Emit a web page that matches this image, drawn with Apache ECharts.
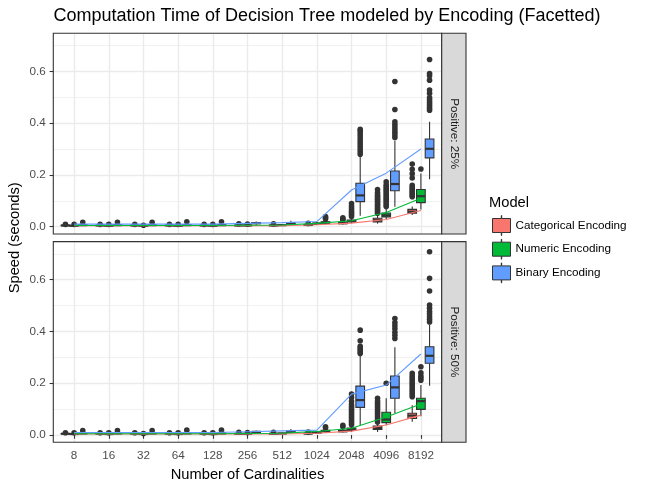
<!DOCTYPE html>
<html lang="en">
<head>
<meta charset="UTF-8">
<title>Computation Time of Decision Tree modeled by Encoding</title>
<style>html,body{margin:0;padding:0;background:#fff;}</style>
</head>
<body>
<div id="main" style="width:648px;height:487px;"></div>
<script src="https://cdn.jsdelivr.net/npm/echarts@6/dist/echarts.min.js"></script>
<script>
var categories = ['8', '16', '32', '64', '128', '256', '512', '1024', '2048', '4096', '8192'];
var models = ['Categorical Encoding', 'Numeric Encoding', 'Binary Encoding'];
var colors = ['#F8766D', '#00BA38', '#619CFF'];
var facets = ['Positive: 25%', 'Positive: 50%'];
var yTicks = [0, 0.2, 0.4, 0.6];

// box stats per cardinality: [lower whisker, q1, median, q3, upper whisker]
// --- Positive: 25% ---
var catBox25 = [
    [0.003, 0.004, 0.005, 0.006, 0.007], [0.003, 0.004, 0.005, 0.006, 0.007],
    [0.003, 0.004, 0.005, 0.006, 0.007], [0.003, 0.004, 0.005, 0.006, 0.007],
    [0.003, 0.004, 0.005, 0.006, 0.008], [0.002, 0.004, 0.005, 0.006, 0.009],
    [0.002, 0.004, 0.005, 0.006, 0.009], [0.004, 0.006, 0.007, 0.008, 0.011],
    [0.009, 0.012, 0.014, 0.017, 0.022], [0.012, 0.019, 0.025, 0.033, 0.048],
    [0.045, 0.052, 0.058, 0.067, 0.078]
];
var catOut25 = [
    [0.009], [0.009], [0.009], [0.009], [0.009], [0.011], [0.011], [0.013],
    [0.026, 0.030, 0.035],
    [0.052, 0.058, 0.064, 0.070, 0.076, 0.082, 0.088, 0.094, 0.100, 0.106, 0.112, 0.118, 0.124, 0.132, 0.144],
    [0.116, 0.122, 0.128, 0.134, 0.140, 0.147, 0.153, 0.160, 0.188, 0.205, 0.222, 0.242]
];
var numBox25 = [
    [0.002, 0.003, 0.004, 0.005, 0.006], [0.002, 0.003, 0.004, 0.005, 0.006],
    [0.002, 0.003, 0.004, 0.005, 0.006], [0.002, 0.003, 0.004, 0.005, 0.006],
    [0.002, 0.003, 0.004, 0.005, 0.006], [0.003, 0.004, 0.005, 0.006, 0.008],
    [0.004, 0.005, 0.006, 0.007, 0.009], [0.007, 0.010, 0.012, 0.014, 0.018],
    [0.014, 0.019, 0.022, 0.026, 0.036], [0.030, 0.038, 0.044, 0.053, 0.075],
    [0.067, 0.093, 0.118, 0.144, 0.206]
];
var numOut25 = [
    [0.009], [0.009], [0.006], [0.009], [0.009], [0.010], [], [],
    [0.040, 0.046, 0.052, 0.058, 0.065, 0.072, 0.080, 0.090],
    [0.078, 0.085, 0.092, 0.099, 0.106, 0.113, 0.120, 0.127, 0.134, 0.141, 0.148, 0.155, 0.162, 0.174],
    [0.223]
];
var binBox25 = [
    [0.004, 0.005, 0.006, 0.008, 0.011], [0.004, 0.005, 0.006, 0.008, 0.011],
    [0.004, 0.005, 0.006, 0.008, 0.011], [0.004, 0.005, 0.006, 0.008, 0.011],
    [0.004, 0.005, 0.006, 0.008, 0.011], [0.008, 0.012, 0.014, 0.016, 0.020],
    [0.007, 0.011, 0.013, 0.015, 0.023], [0.010, 0.014, 0.016, 0.019, 0.024],
    [0.042, 0.097, 0.121, 0.168, 0.270], [0.077, 0.139, 0.165, 0.215, 0.332],
    [0.183, 0.266, 0.301, 0.339, 0.405]
];
var binOut25 = [
    [0.017], [0.017], [0.017], [0.019], [0.019], [], [],
    [0.030, 0.035, 0.039],
    [0.280, 0.290, 0.300, 0.310, 0.320, 0.330, 0.340, 0.350, 0.360, 0.370, 0.376],
    [0.345, 0.355, 0.365, 0.375, 0.385, 0.395, 0.405, 0.453, 0.561],
    [0.450, 0.458, 0.466, 0.474, 0.482, 0.490, 0.498, 0.515, 0.528, 0.566, 0.583, 0.592, 0.646]
];
var catLine25 = [0.004, 0.004, 0.004, 0.004, 0.004, 0.004, 0.004, 0.008, 0.014, 0.028, 0.063];
var numLine25 = [0.005, 0.005, 0.005, 0.005, 0.005, 0.006, 0.007, 0.013, 0.023, 0.055, 0.110];
var binLine25 = [0.010, 0.010, 0.010, 0.010, 0.010, 0.013, 0.016, 0.020, 0.142, 0.207, 0.300];

// --- Positive: 50% ---
var catBox50 = [
    [0.003, 0.004, 0.005, 0.006, 0.007], [0.003, 0.004, 0.005, 0.006, 0.007],
    [0.003, 0.004, 0.005, 0.006, 0.007], [0.003, 0.004, 0.005, 0.006, 0.007],
    [0.003, 0.004, 0.005, 0.006, 0.008], [0.002, 0.004, 0.005, 0.006, 0.009],
    [0.002, 0.004, 0.005, 0.006, 0.009], [0.003, 0.005, 0.006, 0.007, 0.009],
    [0.010, 0.013, 0.015, 0.019, 0.026], [0.012, 0.022, 0.027, 0.035, 0.045],
    [0.051, 0.064, 0.075, 0.084, 0.115]
];
var catOut50 = [
    [0.009], [0.009], [0.009], [0.009], [0.009], [0.011], [0.011], [0.012],
    [0.032, 0.038],
    [0.050, 0.058, 0.066, 0.074, 0.082, 0.090, 0.098, 0.106, 0.114, 0.122, 0.130, 0.142],
    [0.148, 0.156, 0.164, 0.172, 0.180, 0.188, 0.196, 0.204, 0.212, 0.220, 0.228, 0.238]
];
var numBox50 = [
    [0.002, 0.003, 0.004, 0.005, 0.006], [0.002, 0.003, 0.004, 0.005, 0.006],
    [0.002, 0.003, 0.004, 0.005, 0.006], [0.002, 0.003, 0.004, 0.005, 0.006],
    [0.002, 0.003, 0.004, 0.005, 0.006], [0.003, 0.004, 0.005, 0.006, 0.008],
    [0.004, 0.005, 0.006, 0.007, 0.009], [0.006, 0.008, 0.010, 0.012, 0.016],
    [0.012, 0.018, 0.022, 0.027, 0.035], [0.039, 0.048, 0.060, 0.088, 0.142],
    [0.073, 0.099, 0.131, 0.142, 0.193]
];
var numOut50 = [
    [0.009], [0.009], [0.006], [0.009], [0.009], [0.010], [], [],
    [0.040, 0.047, 0.054, 0.061, 0.068, 0.075, 0.082, 0.089, 0.096, 0.103, 0.110, 0.118, 0.130, 0.145, 0.158],
    [0.200],
    [0.212, 0.220, 0.228, 0.240, 0.264]
];
var binBox50 = [
    [0.004, 0.005, 0.006, 0.008, 0.011], [0.004, 0.005, 0.006, 0.008, 0.011],
    [0.004, 0.005, 0.006, 0.008, 0.011], [0.004, 0.005, 0.006, 0.008, 0.011],
    [0.004, 0.005, 0.006, 0.008, 0.011], [0.007, 0.010, 0.012, 0.014, 0.018],
    [0.007, 0.010, 0.012, 0.015, 0.023], [0.009, 0.013, 0.015, 0.018, 0.024],
    [0.039, 0.107, 0.135, 0.189, 0.309], [0.084, 0.142, 0.184, 0.228, 0.339],
    [0.190, 0.277, 0.306, 0.341, 0.425]
];
var binOut50 = [
    [0.017], [0.017], [0.017], [0.019], [0.019], [], [],
    [0.027, 0.032],
    [0.315, 0.322, 0.329, 0.336, 0.343, 0.364, 0.405],
    [0.373, 0.385, 0.397, 0.410, 0.422, 0.434, 0.450],
    [0.437, 0.447, 0.457, 0.467, 0.477, 0.490, 0.502, 0.556, 0.605, 0.708]
];
var catLine50 = [0.004, 0.004, 0.004, 0.004, 0.004, 0.004, 0.004, 0.007, 0.015, 0.039, 0.077];
var numLine50 = [0.005, 0.005, 0.005, 0.005, 0.005, 0.006, 0.007, 0.014, 0.026, 0.070, 0.120];
var binLine50 = [0.010, 0.010, 0.010, 0.010, 0.010, 0.013, 0.016, 0.019, 0.158, 0.193, 0.313];

var panels = [
    {label: facets[0], box: [catBox25, numBox25, binBox25], out: [catOut25, numOut25, binOut25], line: [catLine25, numLine25, binLine25]},
    {label: facets[1], box: [catBox50, numBox50, binBox50], out: [catOut50, numOut50, binOut50], line: [catLine50, numLine50, binLine50]}
];

// layout (pixels)
var FONT = 'Liberation Sans, Arial, sans-serif';
var PL = 53.3, PW = 388.4, PH = 200.7;
var PT = [33.3, 241.6];
var BAND = PW / 11.2;
var STRIP_W = 24.3;
var Y_MIN = -0.028, Y_MAX = 0.747;
var BOX_W = 0.25;
var DARK = '#333333';
// legend key: box with whisker stems above and below
var KEY_ICON = 'path://M8.8,0 L9.2,0 L9.2,3 L18,3 L18,17 L9.2,17 L9.2,20 L8.8,20 L8.8,17 L0,17 L0,3 L8.8,3 Z';

function boxRenderer(k) {
    return function (params, api) {
        var i = api.value(0);
        var band = api.size([1, 0])[0];
        var cx = api.coord([i, 0])[0] + (k - 1) * BOX_W * band;
        var hw = BOX_W * band / 2;
        var yLo = api.coord([i, api.value(1)])[1];
        var yQ1 = api.coord([i, api.value(2)])[1];
        var yMed = api.coord([i, api.value(3)])[1];
        var yQ3 = api.coord([i, api.value(4)])[1];
        var yHi = api.coord([i, api.value(5)])[1];
        var ls = {stroke: DARK, lineWidth: 1.1};
        return {
            type: 'group',
            children: [
                {type: 'line', shape: {x1: cx, y1: yQ3, x2: cx, y2: yHi}, style: ls},
                {type: 'line', shape: {x1: cx, y1: yLo, x2: cx, y2: yQ1}, style: ls},
                {type: 'rect', shape: {x: cx - hw, y: yQ3, width: 2 * hw, height: Math.max(yQ1 - yQ3, 0.5)},
                    style: {fill: colors[k], stroke: DARK, lineWidth: 1.1}},
                {type: 'line', shape: {x1: cx - hw, y1: yMed, x2: cx + hw, y2: yMed}, style: {stroke: DARK, lineWidth: 2.2}}
            ]
        };
    };
}

function outlierRenderer(k) {
    return function (params, api) {
        var i = api.value(0);
        var band = api.size([1, 0])[0];
        var p = api.coord([i, api.value(1)]);
        return {
            type: 'circle',
            shape: {cx: p[0] + (k - 1) * BOX_W * band, cy: p[1], r: 2.8},
            style: {fill: DARK}
        };
    };
}

var grids = [], xAxes = [], yAxes = [], series = [], graphics = [];

panels.forEach(function (panel, p) {
    var isBottom = p === panels.length - 1;
    // outer grid: full panel, carries the y axis and horizontal grid lines
    grids.push({left: PL, top: PT[p], width: PW, height: PH, show: true, backgroundColor: '#fff',
        borderWidth: 0, outerBoundsMode: 'none'});
    // inner grid: category positions (ggplot pads 0.6 of a step on each side)
    grids.push({left: PL + 0.1 * BAND, top: PT[p], width: 11 * BAND, height: PH, outerBoundsMode: 'none'});

    xAxes.push({type: 'value', gridIndex: 2 * p, min: 0, max: 1, show: false});
    xAxes.push({
        type: 'category', gridIndex: 2 * p + 1, data: categories, boundaryGap: true,
        axisLine: {show: false},
        axisTick: {show: isBottom, alignWithLabel: true, length: 3.7, lineStyle: {color: DARK, width: 1.1}},
        axisLabel: {show: isBottom, color: '#4D4D4D', fontSize: 11.7, fontFamily: FONT, margin: 7, interval: 0},
        splitLine: {show: true, alignWithLabel: true, lineStyle: {color: '#EBEBEB', width: 1.4}},
        name: isBottom ? 'Number of Cardinalities' : '',
        nameLocation: 'middle', nameGap: 25,
        nameTextStyle: {color: '#000', fontSize: 14.7, fontFamily: FONT}
    });

    yAxes.push({
        type: 'value', gridIndex: 2 * p, min: Y_MIN, max: Y_MAX, splitNumber: 4,
        axisLine: {show: false},
        axisTick: {show: true, length: 3.7, customValues: yTicks, lineStyle: {color: DARK, width: 1.1}},
        axisLabel: {
            color: '#4D4D4D', fontSize: 11.7, fontFamily: FONT, margin: 7.5, customValues: yTicks,
            formatter: function (v) {
                return Math.abs(v * 5 - Math.round(v * 5)) < 1e-6 ? v.toFixed(1) : '';
            }
        },
        splitLine: {show: true, lineStyle: {color: '#EBEBEB', width: 1.4}},
        minorTick: {show: false, splitNumber: 2},
        minorSplitLine: {show: true, lineStyle: {color: '#EBEBEB', width: 0.7}}
    });
    yAxes.push({type: 'value', gridIndex: 2 * p + 1, min: Y_MIN, max: Y_MAX, show: false});

    models.forEach(function (m, k) {
        series.push({
            type: 'custom', name: m, xAxisIndex: 2 * p + 1, yAxisIndex: 2 * p + 1,
            renderItem: boxRenderer(k), itemStyle: {color: colors[k]}, z: 2,
            encode: {x: 0, y: [1, 2, 3, 4, 5]},
            data: panel.box[k].map(function (b, i) { return [i].concat(b); })
        });
        var pts = [];
        panel.out[k].forEach(function (vals, i) {
            vals.forEach(function (v) { pts.push([i, v]); });
        });
        series.push({
            type: 'custom', name: m, xAxisIndex: 2 * p + 1, yAxisIndex: 2 * p + 1,
            renderItem: outlierRenderer(k), itemStyle: {color: colors[k]}, z: 3,
            encode: {x: 0, y: 1}, data: pts
        });
        series.push({
            type: 'line', name: m, xAxisIndex: 2 * p + 1, yAxisIndex: 2 * p + 1,
            data: panel.line[k], showSymbol: false, symbol: 'none', z: 4,
            lineStyle: {color: colors[k], width: 1.1}, itemStyle: {color: colors[k]}
        });
    });

    // panel border and facet strip
    graphics.push({type: 'rect', z: 100, silent: true,
        shape: {x: PL, y: PT[p], width: PW, height: PH},
        style: {fill: null, stroke: DARK, lineWidth: 1.1}});
    graphics.push({type: 'rect', z: 100, silent: true,
        shape: {x: PL + PW, y: PT[p], width: STRIP_W, height: PH},
        style: {fill: '#D9D9D9', stroke: DARK, lineWidth: 1.1}});
    graphics.push({type: 'text', z: 101, silent: true,
        x: PL + PW + STRIP_W / 2, y: PT[p] + PH / 2, rotation: -Math.PI / 2,
        style: {text: panel.label, fill: '#1A1A1A', font: '11.7px ' + FONT, textAlign: 'center', textVerticalAlign: 'middle'}});
});

graphics.push({type: 'text', z: 101, silent: true,
    x: 14.5, y: (PT[0] + PT[1] + PH) / 2, rotation: Math.PI / 2,
    style: {text: 'Speed (seconds)', fill: '#000', font: '14.7px ' + FONT, textAlign: 'center', textVerticalAlign: 'middle'}});

var myChart = echarts.init(document.getElementById('main'));
myChart.setOption({
    animation: false,
    backgroundColor: '#fff',
    textStyle: {fontFamily: FONT},
    title: [
        {text: 'Computation Time of Decision Tree modeled by Encoding (Facetted)', left: 53.5, top: 7.5, padding: 0,
            textStyle: {fontSize: 18, fontWeight: 'normal', color: '#000', fontFamily: FONT}},
        {text: 'Model', left: 489, top: 195, padding: 0,
            textStyle: {fontSize: 14.7, fontWeight: 'normal', color: '#000', fontFamily: FONT}}
    ],
    legend: {
        orient: 'vertical', left: 492, top: 215, padding: 0,
        itemWidth: 18, itemHeight: 20, itemGap: 2.7,
        textStyle: {fontSize: 11.7, color: '#000', fontFamily: FONT},
        data: models.map(function (m, k) {
            return {name: m, icon: KEY_ICON, itemStyle: {color: colors[k], borderColor: DARK, borderWidth: 1}};
        })
    },
    grid: grids,
    xAxis: xAxes,
    yAxis: yAxes,
    series: series,
    graphic: graphics
});
</script>
</body>
</html>
